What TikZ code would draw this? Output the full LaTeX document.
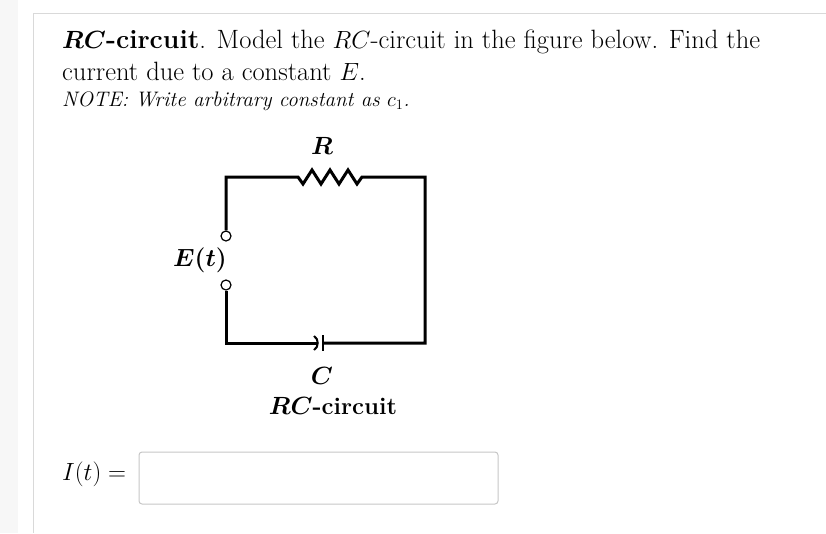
\documentclass[tikz,border=0pt]{standalone}
\usepackage{amsmath}
\begin{document}
\begin{tikzpicture}[x=1pt,y=-1pt,
  wire/.style={line width=3pt},
  term/.style={circle,draw,line width=1.2pt,fill=white,minimum size=10pt,inner sep=0pt},
  lbl/.style={font=\fontsize{24}{28}\selectfont}]
\useasboundingbox (0,0) rectangle (826,533);
\fill[gray!6] (0,0) rectangle (18,533);
\draw[gray!30,line width=1pt] (826,13) -- (33,13) -- (33,533);
\node[anchor=base west,font=\fontsize{26.5}{30}\selectfont,inner sep=0] (t1) at (62,48) {$\boldsymbol{RC}$\textbf{-circuit}. Model the $RC$-circuit in the figure below. Find the};
\node[anchor=base west,font=\fontsize{26.5}{30}\selectfont,inner sep=0] (t2) at (62,80) {current due to a constant $E$.};
\node[anchor=base west,font=\fontsize{21}{24}\selectfont\itshape,inner sep=0] (t3) at (62,106) {NOTE: Write arbitrary constant as $c_1$.};
\coordinate (tl) at (226,177); \coordinate (tr) at (425,177);
\coordinate (bl) at (226,343); \coordinate (br) at (425,343);
\coordinate (r1) at (298,177);
\node[term] (e1) at (226,236) {};
\node[term] (e2) at (226,285) {};
\draw[wire,line join=miter] (e1) -- (tl) -- (r1)
  -- ++(5,7) -- ++(9,-14) -- ++(9,14) -- ++(9,-14) -- ++(9,14) -- ++(9,-14) -- ++(9,14) -- ++(5,-7)
  -- (tr) -- (br) -- (323,343);
\draw[wire] (e2) -- (bl) -- (318,343);
\draw[line width=2pt] (314,336) .. controls (319,339) and (319,347) .. (314,350);
\draw[line width=2.4pt] (323,335) -- (323,351);
\node[lbl] (R) at (322,146) {$\boldsymbol{R}$};
\node[lbl] (E) at (200,260) {$\boldsymbol{E(t)}$};
\node[lbl] (C) at (322,376) {$\boldsymbol{C}$};
\node[lbl] (cap) at (333,406) {$\boldsymbol{RC}$\textbf{-circuit}};
\node[anchor=base west,font=\fontsize{25}{28}\selectfont,inner sep=0] (I) at (62,480) {$I(t)=$};
\draw[gray!45,rounded corners=3pt,line width=1pt] (139,452) rectangle (498,504);
\end{tikzpicture}
\end{document}
